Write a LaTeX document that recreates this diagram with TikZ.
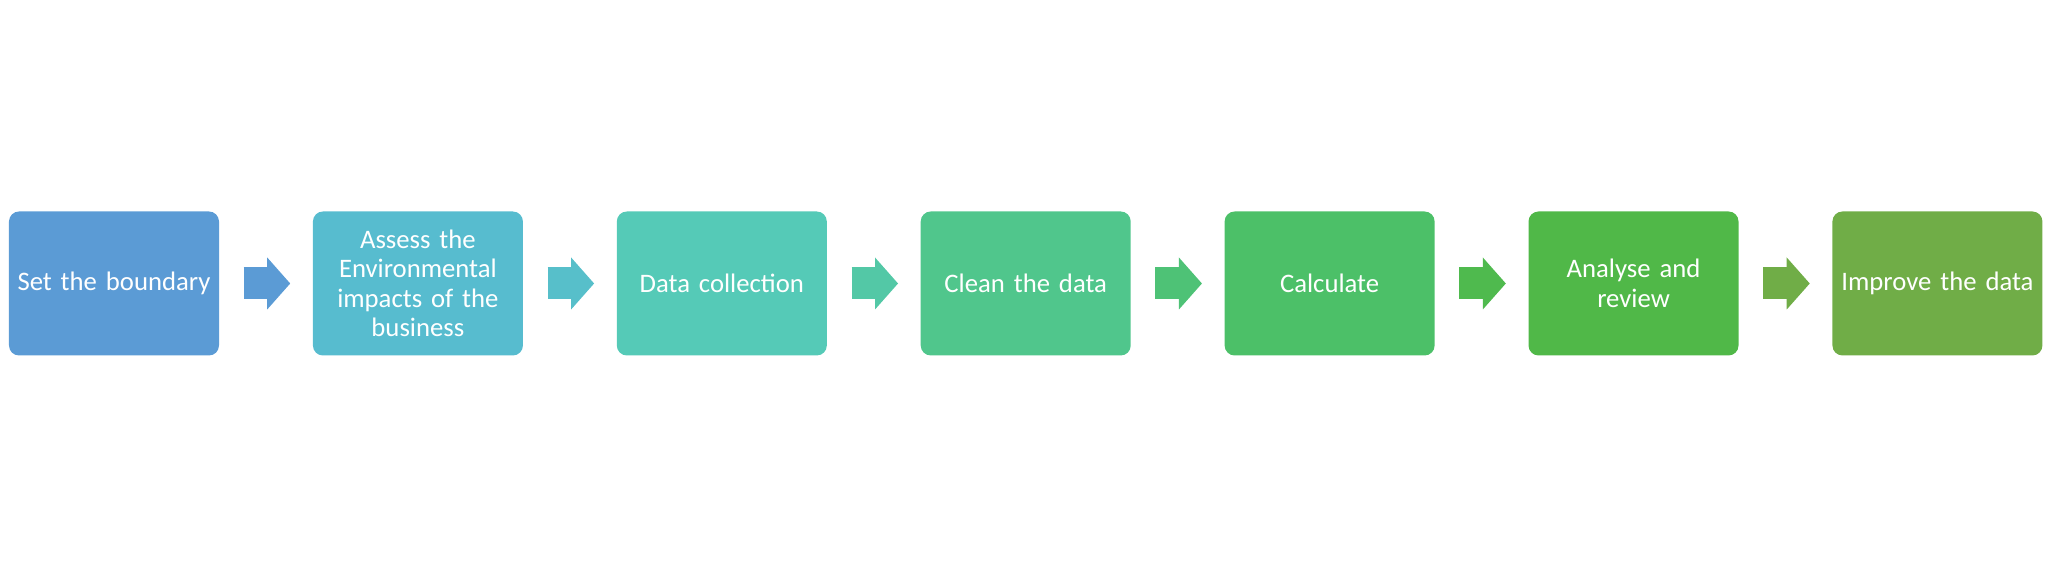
\documentclass[tikz,border=0pt]{standalone}
\usepackage{fontspec}
\setmainfont{Carlito}
\usepackage{xcolor}
\usepackage{tikz}
\usetikzlibrary{arrows.meta, positioning}

\definecolor{stepA}{HTML}{5B9BD5}
\definecolor{stepB}{HTML}{57BCCF}
\definecolor{stepC}{HTML}{55CAB7}
\definecolor{stepD}{HTML}{50C68C}
\definecolor{stepE}{HTML}{4CC068}
\definecolor{stepF}{HTML}{50B848}
\definecolor{stepG}{HTML}{70AD47}

\begin{document}
\begin{tikzpicture}[
  node distance=0.925cm,
  box/.style={rectangle, rounded corners=1mm, fill=#1, text=white, minimum width=2.1cm, minimum height=1.44cm, text width=2cm, align=center, inner sep=0pt, font=\fontsize{7.6}{8.4}\selectfont},
  flow/.style={draw=#1, line width=3.2mm, shorten <=2.4mm, shorten >=2.2mm, -{Triangle[length=2.3mm, width=5.2mm, line width=0pt]}}
]
\useasboundingbox (0,0) rectangle (20.48,-5.67);

% Steps
\node[box=stepA] (bound) at (1.14,-2.835) {Set the boundary};
\node[box=stepB, right=of bound] (assess) {Assess the\\Environmental\\impacts of the\\business};
\node[box=stepC, right=of assess] (collect) {Data collection};
\node[box=stepD, right=of collect] (clean) {Clean the data};
\node[box=stepE, right=of clean] (calc) {Calculate};
\node[box=stepF, right=of calc] (review) {Analyse and\\review};
\node[box=stepG, right=of review] (improve) {Improve the data};

% Arrows
\draw[flow=stepA] (bound.east) -- (assess.west);
\draw[flow=stepB!80!stepC] (assess.east) -- (collect.west);
\draw[flow=stepC!60!stepD] (collect.east) -- (clean.west);
\draw[flow=stepD!40!stepE] (clean.east) -- (calc.west);
\draw[flow=stepE!20!stepF] (calc.east) -- (review.west);
\draw[flow=stepG] (review.east) -- (improve.west);

\end{tikzpicture}
\end{document}
